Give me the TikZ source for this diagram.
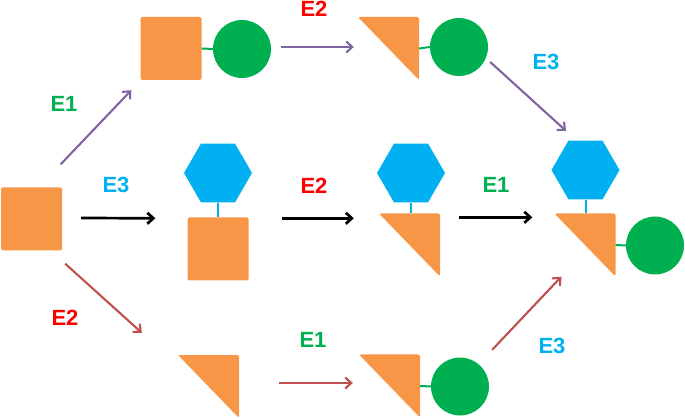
\documentclass[tikz,border=0pt]{standalone}
\usepackage{fontspec}
\setmainfont{Liberation Sans}
\usetikzlibrary{shapes.geometric,arrows.meta}
\definecolor{orng}{HTML}{F79646}
\definecolor{grn}{HTML}{00B050}
\definecolor{blu}{HTML}{00B0F0}
\definecolor{purp}{HTML}{8064A2}
\definecolor{redarr}{HTML}{C0504D}
\definecolor{redtxt}{HTML}{FF0000}
\begin{document}
\begin{tikzpicture}[x=1pt,y=-1pt,
  sq/.style={rectangle,fill=orng,rounded corners=1.5pt,inner sep=0pt,minimum width=61pt,minimum height=63pt},
  tri/.style={rectangle,inner sep=0pt,minimum width=61pt,minimum height=63pt,
    path picture={\fill[orng,rounded corners=2pt] (path picture bounding box.north west) -- (path picture bounding box.north east) -- (path picture bounding box.south east) -- cycle;}},
  circ/.style={circle,fill=grn,inner sep=0pt,minimum size=58pt},
  hex/.style={regular polygon,regular polygon sides=6,fill=blu,inner sep=0pt,minimum size=68pt},
  lnk/.style={line width=2pt},
  arr/.style={line width=2.1pt,-{Straight Barb[length=6pt,width=11pt]}},
  blk/.style={line width=2.7pt,-{Straight Barb[length=6pt,width=11pt]}},
  lbl/.style={font=\fontsize{22}{26}\selectfont\bfseries,inner sep=0pt}
]
\useasboundingbox (0,0) rectangle (685,419);
% shapes
\node[sq] (sqA) at (31.5,219) {};
\node[sq] (sqB) at (171,48.5) {};
\node[circ] (cB) at (242,49) {};
\node[tri] (triC) at (388.5,48.5) {};
\node[circ] (cC) at (459,47) {};
\node[hex] (hexD) at (218,173) {};
\node[sq] (sqD) at (218,249) {};
\node[hex] (hexE) at (411,173) {};
\node[tri] (triE) at (409.5,245) {};
\node[hex] (hexF) at (585.5,170) {};
\node[tri] (triF) at (585,245) {};
\node[circ] (cF) at (655,245.5) {};
\node[tri] (triG) at (208.5,386.5) {};
\node[tri] (triH) at (389.5,386) {};
\node[circ] (cH) at (460,386.5) {};
% links
\draw[lnk,grn] (sqB.east) -- (cB.west);
\draw[lnk,grn] (triC.east) -- (cC.west);
\draw[lnk,grn] (triF.east) -- (cF.west);
\draw[lnk,grn] (triH.east) -- (cH.west);
\draw[lnk,blu] (hexD.south) -- (sqD.north);
\draw[lnk,blu] (hexE.south) -- (triE.north -| hexE.south);
\draw[lnk,blu] (hexF.south) -- (triF.north -| hexF.south);
% arrows
\draw[arr,purp] ([shift={(-1.5,-23)}]sqA.north east) -- ([shift={(-9,10)}]sqB.south west);
\draw[arr,purp] ([shift={(10,-2)}]cB.east) -- ([shift={(-4,-1.5)}]triC.west);
\draw[arr,purp] ([shift={(2,15)}]cC.east) -- ([shift={(-19.5,-9.5)}]hexF.north);
\draw[blk,black] ([shift={(19,-1)}]sqA.east) -- ([shift={(-32,1)}]sqD.north west);
\draw[blk,black] ([shift={(33,1)}]sqD.north east) -- ([shift={(-25,5)}]triE.north west);
\draw[blk,black] ([shift={(19,4)}]triE.north east) -- ([shift={(-22,4)}]triF.north west);
\draw[arr,redarr] ([shift={(3,13)}]sqA.south east) -- ([shift={(-36,-22)}]triG.north west);
\draw[arr,redarr] ([shift={(40,-3.5)}]triG.east) -- ([shift={(-6,-3)}]triH.west);
\draw[arr,redarr] ([shift={(11.5,-16)}]cH.north east) -- ([shift={(7,0)}]triF.south west);
% labels
\node[lbl,grn] (l1) at (64,104) {E1};
\node[lbl,redtxt] (l2) at (314,9) {E2};
\node[lbl,blu] (l3) at (546,62) {E3};
\node[lbl,blu] (l4) at (116,185) {E3};
\node[lbl,redtxt] (l5) at (314,186) {E2};
\node[lbl,grn] (l6) at (496,185) {E1};
\node[lbl,redtxt] (l7) at (65,318) {E2};
\node[lbl,grn] (l8) at (313,340) {E1};
\node[lbl,blu] (l9) at (552,346) {E3};
\end{tikzpicture}
\end{document}
